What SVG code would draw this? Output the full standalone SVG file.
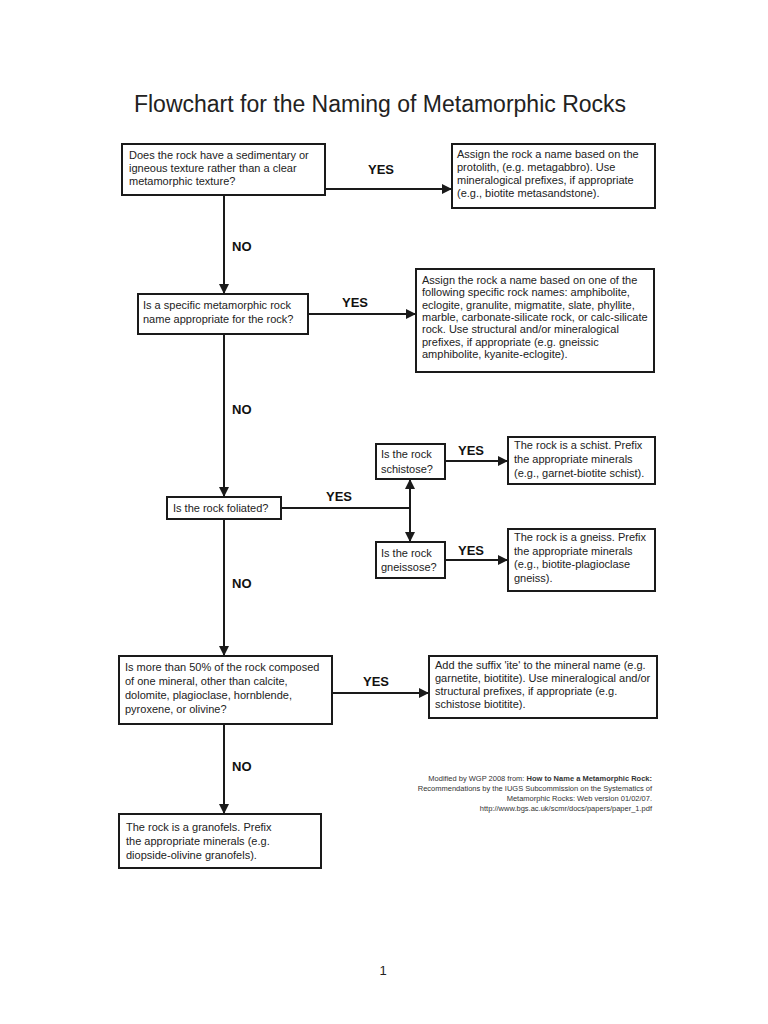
<svg xmlns="http://www.w3.org/2000/svg" width="768" height="1024" viewBox="0 0 768 1024">
<style>
.box{fill:#fff;stroke:#1a1a1a;stroke-width:2}
.t{font-family:"Liberation Sans",Arial,sans-serif;font-size:11px;fill:#222}
.lbl{font-family:"Liberation Sans",Arial,sans-serif;font-size:13px;font-weight:bold;fill:#111}
.c{stroke:#1a1a1a;stroke-width:2;fill:none}
.cite{font-family:"Liberation Sans",Arial,sans-serif;font-size:7.5px;fill:#333;text-anchor:end}
</style>
<defs>
<marker id="ah" viewBox="0 0 10 10" refX="10" refY="5" markerWidth="5" markerHeight="5" orient="auto-start-reverse" markerUnits="strokeWidth">
<path d="M0,0 L10,5 L0,10 z" fill="#1a1a1a"/>
</marker>
</defs>
<rect width="768" height="1024" fill="#fff"/>
<text x="380" y="112" text-anchor="middle" font-family="'Liberation Sans',Arial,sans-serif" font-size="23" fill="#222">Flowchart for the Naming of Metamorphic Rocks</text>

<g id="connectors">
<line class="c" x1="325" y1="189" x2="452" y2="189" marker-end="url(#ah)"/>
<line class="c" x1="224" y1="195" x2="224" y2="294" marker-end="url(#ah)"/>
<line class="c" x1="308" y1="314" x2="416" y2="314" marker-end="url(#ah)"/>
<line class="c" x1="224" y1="334" x2="224" y2="497" marker-end="url(#ah)"/>
<line class="c" x1="281" y1="508" x2="410" y2="508"/>
<line class="c" x1="410" y1="508" x2="410" y2="479" marker-end="url(#ah)"/>
<line class="c" x1="410" y1="508" x2="410" y2="542" marker-end="url(#ah)"/>
<line class="c" x1="445" y1="461" x2="508" y2="461" marker-end="url(#ah)"/>
<line class="c" x1="445" y1="560" x2="508" y2="560" marker-end="url(#ah)"/>
<line class="c" x1="224" y1="519" x2="224" y2="656" marker-end="url(#ah)"/>
<line class="c" x1="332" y1="693" x2="429" y2="693" marker-end="url(#ah)"/>
<line class="c" x1="224" y1="724" x2="224" y2="814" marker-end="url(#ah)"/>
<text class="lbl" x="368" y="174">YES</text>
<text class="lbl" x="232" y="251">NO</text>
<text class="lbl" x="342" y="307">YES</text>
<text class="lbl" x="232" y="414">NO</text>
<text class="lbl" x="326" y="501">YES</text>
<text class="lbl" x="458" y="455">YES</text>
<text class="lbl" x="458" y="555">YES</text>
<text class="lbl" x="232" y="588">NO</text>
<text class="lbl" x="363" y="686">YES</text>
<text class="lbl" x="232" y="771">NO</text>
</g>

<g id="n1">
<rect class="box" x="122" y="144" width="203" height="51"/>
<text class="t" x="129" y="159">Does the rock have a sedimentary or</text>
<text class="t" x="129" y="172">igneous texture rather than a clear</text>
<text class="t" x="129" y="185">metamorphic  texture?</text>
</g>
<g id="n2">
<rect class="box" x="452" y="144" width="203" height="64"/>
<text class="t" x="457" y="158">Assign the rock a name based on the</text>
<text class="t" x="457" y="171">protolith, (e.g. metagabbro). Use</text>
<text class="t" x="457" y="184">mineralogical prefixes, if appropriate</text>
<text class="t" x="457" y="197">(e.g., biotite metasandstone).</text>
</g>
<g id="n3">
<rect class="box" x="138" y="294" width="170" height="40"/>
<text class="t" x="143" y="309">Is a specific metamorphic rock</text>
<text class="t" x="143" y="323">name appropriate for the rock?</text>
</g>
<g id="n4">
<rect class="box" x="416" y="269" width="238" height="103"/>
<text class="t" x="422" y="284" font-size="11.5">Assign the rock a name based on one of the</text>
<text class="t" x="422" y="296" font-size="11.5">following specific rock names: amphibolite,</text>
<text class="t" x="422" y="309" font-size="11.5">eclogite, granulite, migmatite, slate, phyllite,</text>
<text class="t" x="422" y="321" font-size="11.5">marble, carbonate-silicate rock, or calc-silicate</text>
<text class="t" x="422" y="333" font-size="11.5">rock. Use structural and/or mineralogical</text>
<text class="t" x="422" y="346" font-size="11.5">prefixes, if appropriate (e.g. gneissic</text>
<text class="t" x="422" y="358" font-size="11.5">amphibolite, kyanite-eclogite).</text>
</g>
<g id="n5">
<rect class="box" x="167" y="497" width="114" height="22"/>
<text class="t" x="173" y="512">Is the rock foliated?</text>
</g>
<g id="n6">
<rect class="box" x="376" y="444" width="69" height="35"/>
<text class="t" x="381" y="458">Is the rock</text>
<text class="t" x="381" y="473">schistose?</text>
</g>
<g id="n7">
<rect class="box" x="508" y="437" width="147" height="47"/>
<text class="t" x="514" y="449">The rock is a schist. Prefix</text>
<text class="t" x="514" y="463">the appropriate minerals</text>
<text class="t" x="514" y="477">(e.g., garnet-biotite schist).</text>
</g>
<g id="n8">
<rect class="box" x="376" y="542" width="69" height="36"/>
<text class="t" x="381" y="557">Is the rock</text>
<text class="t" x="381" y="571">gneissose?</text>
</g>
<g id="n9">
<rect class="box" x="508" y="529" width="147" height="62"/>
<text class="t" x="514" y="541">The rock is a gneiss. Prefix</text>
<text class="t" x="514" y="555">the appropriate minerals</text>
<text class="t" x="514" y="568">(e.g., biotite-plagioclase</text>
<text class="t" x="514" y="582">gneiss).</text>
</g>
<g id="n10">
<rect class="box" x="119" y="656" width="213" height="68"/>
<text class="t" x="125" y="671">Is more than 50% of the rock composed</text>
<text class="t" x="125" y="685">of one mineral, other than calcite,</text>
<text class="t" x="125" y="699">dolomite, plagioclase, hornblende,</text>
<text class="t" x="125" y="713">pyroxene, or olivine?</text>
</g>
<g id="n11">
<rect class="box" x="429" y="656" width="228" height="62"/>
<text class="t" x="435" y="669">Add the suffix 'ite' to the mineral name (e.g.</text>
<text class="t" x="435" y="682">garnetite, biotitite). Use mineralogical and/or</text>
<text class="t" x="435" y="695">structural prefixes, if appropriate (e.g.</text>
<text class="t" x="435" y="708">schistose biotitite).</text>
</g>
<g id="n12">
<rect class="box" x="119" y="814" width="202" height="54"/>
<text class="t" x="126" y="831" font-size="12">The rock is a granofels. Prefix</text>
<text class="t" x="126" y="845" font-size="12">the appropriate minerals (e.g.</text>
<text class="t" x="126" y="859" font-size="12">diopside-olivine granofels).</text>
</g>

<g id="citation">
<text class="cite" x="652" y="781">Modified by WGP 2008 from: <tspan font-weight="bold">How to Name a Metamorphic Rock:</tspan></text>
<text class="cite" x="652" y="791">Recommendations by the IUGS Subcommission on the Systematics of</text>
<text class="cite" x="652" y="801">Metamorphic Rocks:  Web version 01/02/07.</text>
<text class="cite" x="652" y="811">http://www.bgs.ac.uk/scmr/docs/papers/paper_1.pdf</text>
</g>
<text x="383" y="975" text-anchor="middle" font-family="'Liberation Sans',Arial,sans-serif" font-size="13" fill="#222">1</text>
</svg>
